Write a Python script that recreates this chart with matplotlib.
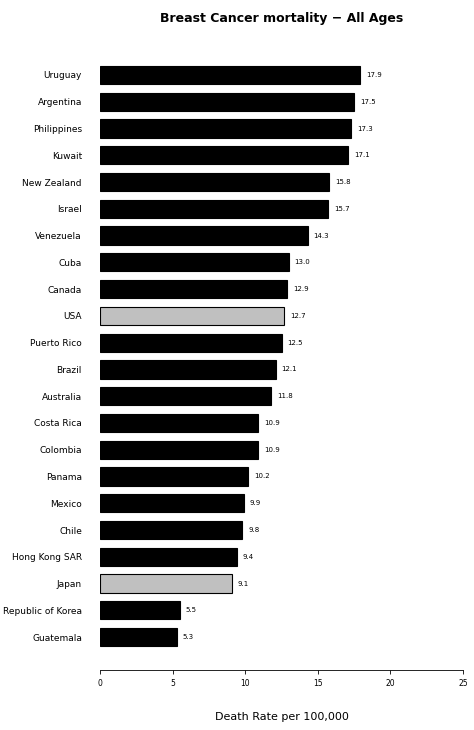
import matplotlib.pyplot as plt

countries = ['Uruguay', 'Argentina', 'Philippines', 'Kuwait', 'New Zealand', 'Israel',
             'Venezuela', 'Cuba', 'Canada', 'USA', 'Puerto Rico', 'Brazil', 'Australia',
             'Costa Rica', 'Colombia', 'Panama', 'Mexico', 'Chile', 'Hong Kong SAR',
             'Japan', 'Republic of Korea', 'Guatemala']
rates = [17.9, 17.5, 17.3, 17.1, 15.8, 15.7, 14.3, 13.0, 12.9, 12.7, 12.5, 12.1, 11.8,
         10.9, 10.9, 10.2, 9.9, 9.8, 9.4, 9.1, 5.5, 5.3]
highlight = ['USA', 'Japan']

fig = plt.figure(figsize=(4.74, 7.3), dpi=100)
ax = fig.add_axes([0.211, 0.0822, 0.766, 0.8334])

pos = list(range(len(countries)))
colors = ['#c0c0c0' if c in highlight else 'black' for c in countries]
ax.barh(pos, rates, height=0.68, color=colors, edgecolor='black', linewidth=0.8)
for p, r in zip(pos, rates):
    ax.text(r + 0.4, p, f'{r:.1f}', va='center', ha='left', fontsize=5)

ax.set_ylim(22.23, -0.5)
ax.set_xlim(0, 25)
ax.set_xticks([0, 5, 10, 15, 20, 25])
ax.set_yticks(pos)
ax.set_yticklabels(countries, fontsize=6.5)
ax.tick_params(axis='y', length=0, pad=13)
ax.tick_params(axis='x', labelsize=5.5, length=3, width=0.6)
for s in ['left', 'right', 'top']:
    ax.spines[s].set_visible(False)
ax.spines['bottom'].set_linewidth(0.6)
ax.set_xlabel('Death Rate per 100,000', fontsize=8, labelpad=17)
fig.text(0.595, 0.975, 'Breast Cancer mortality \u2212 All Ages', ha='center', va='center',
         fontsize=9, fontweight='bold')

fig.savefig('out.png', dpi=100)
